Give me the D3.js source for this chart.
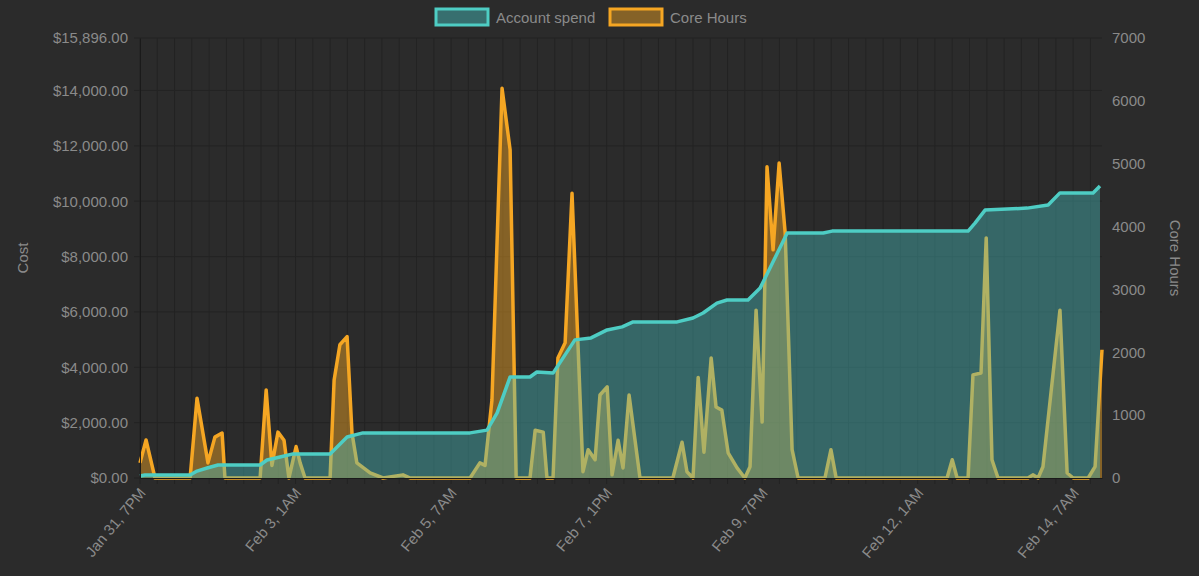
<!DOCTYPE html>
<html>
<head>
<meta charset="utf-8">
<script src="https://cdn.jsdelivr.net/npm/d3@7"></script>
<style>
  body { margin: 0; background: #2b2b2b; }
  svg { display: block; font-family: "Liberation Sans", Arial, sans-serif; }
  .tick text { fill: #8a8a8a; font-size: 15px; }
</style>
</head>
<body>
<svg id="chart" width="1199" height="576"></svg>
<script>
// hours since Jan 31, 7PM
const start = new Date(2018, 0, 31, 19);
const spendHours = [0, 1.7, 17.4, 19.8, 23.3, 27.1, 41.7, 44.1, 48.6, 53.1, 66, 71.9, 77.4, 114.6, 120.5, 124, 128.5, 135.4, 137.8, 143.4, 151, 156.6, 162.2, 167.4, 171.2, 186.5, 192, 195.5, 200.3, 203.8, 211.1, 215.3, 224.7, 237.2, 240.3, 287.5, 289.9, 293.4, 308, 315.3, 319.4, 330.9, 333.3];
const spendValues = [70, 110, 110, 250, 360, 470, 470, 650, 760, 870, 870, 1480, 1630, 1630, 1730, 2350, 3650, 3650, 3830, 3790, 4990, 5060, 5350, 5460, 5640, 5640, 5780, 5960, 6320, 6430, 6430, 6860, 8850, 8850, 8920, 8920, 9210, 9680, 9750, 9860, 10300, 10300, 10550];
const coreHours = [0, 2.1, 5.2, 17.4, 19.8, 23.6, 26, 28.5, 29.5, 41.7, 43.8, 45.8, 47.9, 50, 51.7, 54.2, 55.6, 57.3, 66, 67.4, 69.4, 71.9, 73.6, 75.3, 79.9, 84.4, 91.3, 93.8, 114.6, 118, 119.8, 122.2, 125.7, 128.5, 130.6, 132, 135.4, 137.2, 140, 141.3, 143.4, 145.1, 147.6, 150, 152, 153.8, 155.6, 158, 159.7, 162.2, 163.9, 166, 167.7, 169.8, 173.6, 185, 188.2, 189.9, 192, 193.8, 195.8, 198.3, 200, 202, 204.2, 207.3, 210, 211.8, 213.9, 216, 217.7, 219.8, 221.9, 224, 226.4, 228.5, 237.8, 239.9, 241.7, 280.2, 282, 283.7, 287.5, 289.2, 292, 293.8, 295.8, 297.9, 308.3, 310, 311.8, 313.5, 319.4, 321.9, 324, 329.2, 331.6, 334];
const coreValues = [240, 605, 0, 0, 1270, 240, 650, 715, 0, 0, 1400, 200, 730, 600, 0, 500, 240, 0, 0, 1560, 2120, 2250, 715, 240, 80, 0, 50, 0, 0, 240, 200, 1240, 6200, 5220, 0, 0, 0, 760, 730, 0, 0, 1910, 2150, 4530, 2200, 100, 450, 290, 1320, 1450, 50, 600, 160, 1320, 0, 0, 570, 100, 0, 1600, 410, 1910, 1130, 1080, 400, 160, 0, 180, 2670, 890, 4950, 3630, 5010, 3900, 450, 0, 0, 450, 0, 0, 290, 0, 0, 1640, 1670, 3820, 290, 0, 0, 50, 0, 180, 2670, 80, 0, 0, 180, 2040];
const costTicks = [0, 2000, 4000, 6000, 8000, 10000, 12000, 14000, 15896];
const coreTicks = [0, 1000, 2000, 3000, 4000, 5000, 6000, 7000];
const labelHours = [0, 54, 108, 162, 216, 270, 324];

const svg = d3.select("#chart");
const m = { left: 140, right: 1102, top: 38, bottom: 478 };
const toDate = h => new Date(start.getTime() + h * 3600e3);
const x = d3.scaleTime().domain([toDate(0), toDate(334)]).range([m.left, m.right]);
const yCost = d3.scaleLinear().domain([0, 15896]).range([m.bottom, m.top]);
const yCore = d3.scaleLinear().domain([0, 7000]).range([m.bottom, m.top]);

// grid
const gridHours = d3.range(0, 335, 6);
svg.append("g").selectAll("line").data(gridHours).join("line")
  .attr("x1", h => x(toDate(h))).attr("x2", h => x(toDate(h)))
  .attr("y1", m.top).attr("y2", m.bottom + 6)
  .attr("stroke", "#232323").attr("stroke-width", 1);
svg.append("g").selectAll("line").data(costTicks).join("line")
  .attr("x1", m.left - 6).attr("x2", m.right)
  .attr("y1", d => yCost(d)).attr("y2", d => yCost(d))
  .attr("stroke", "#232323");

const fmtDate = d3.timeFormat("%b %-d, %-I%p");

// core hours (behind)
const core = coreHours.map((h, i) => [toDate(h), coreValues[i]]);
svg.append("path").datum(core)
  .attr("d", d3.area().x(d => x(d[0])).y0(m.bottom).y1(d => yCore(d[1])))
  .attr("fill", "rgba(245,166,35,0.45)");
svg.append("path").datum(core)
  .attr("d", d3.line().x(d => x(d[0])).y(d => yCore(d[1])))
  .attr("fill", "none").attr("stroke", "#f5a623").attr("stroke-width", 3.5).attr("stroke-linejoin", "round");

// account spend (front)
const spend = spendHours.map((h, i) => [toDate(h), spendValues[i]]);
svg.append("path").datum(spend)
  .attr("d", d3.area().x(d => x(d[0])).y0(m.bottom).y1(d => yCost(d[1])))
  .attr("fill", "rgba(72,196,196,0.4)");
svg.append("path").datum(spend)
  .attr("d", d3.line().x(d => x(d[0])).y(d => yCost(d[1])))
  .attr("fill", "none").attr("stroke", "#4ecdc4").attr("stroke-width", 3.5).attr("stroke-linejoin", "round");

// axes
const axL = svg.append("g").attr("transform", `translate(${m.left},0)`)
  .call(d3.axisLeft(yCost).tickValues(costTicks).tickSize(0).tickPadding(12)
    .tickFormat(d => "$" + d3.format(",.2f")(d)));
axL.select(".domain").attr("stroke", "#1a1a1a");
const axR = svg.append("g").attr("transform", `translate(${m.right},0)`)
  .call(d3.axisRight(yCore).tickValues(coreTicks).tickSize(0).tickPadding(10).tickFormat(d3.format("d")));
axR.select(".domain").remove();
const axB = svg.append("g").attr("transform", `translate(0,${m.bottom})`)
  .call(d3.axisBottom(x).tickValues(labelHours.map(toDate)).tickSize(0).tickFormat(fmtDate));
axB.select(".domain").attr("stroke", "#1a1a1a");
axB.selectAll("text").attr("text-anchor", "end")
  .attr("transform", "translate(2,12) rotate(-50)").attr("dy", "0.35em").attr("dx", 0).attr("y", 0);

svg.append("text").attr("transform", "translate(28,258) rotate(-90)")
  .attr("text-anchor", "middle").attr("fill", "#8a8a8a").attr("font-size", 15).text("Cost");
svg.append("text").attr("transform", "translate(1170,258) rotate(90)")
  .attr("text-anchor", "middle").attr("fill", "#8a8a8a").attr("font-size", 15).text("Core Hours");

// legend
const legend = [
  { name: "Account spend", fill: "rgba(72,196,196,0.45)", stroke: "#4ecdc4", x: 436 },
  { name: "Core Hours", fill: "rgba(245,166,35,0.45)", stroke: "#f5a623", x: 610 }
];
const lg = svg.append("g").selectAll("g").data(legend).join("g")
  .attr("transform", d => `translate(${d.x},9)`);
lg.append("rect").attr("width", 52).attr("height", 16)
  .attr("fill", d => d.fill).attr("stroke", d => d.stroke).attr("stroke-width", 3);
lg.append("text").attr("x", 60).attr("y", 14).attr("fill", "#8a8a8a").attr("font-size", 15).text(d => d.name);
</script>
</body>
</html>
